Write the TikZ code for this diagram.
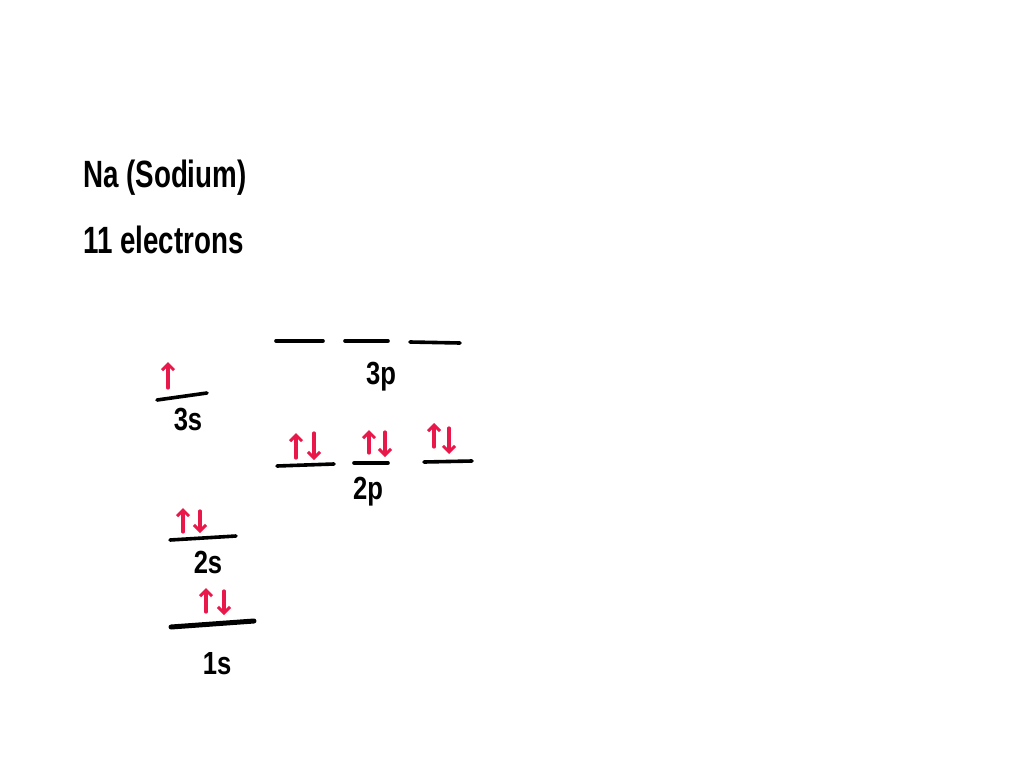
\documentclass[tikz,border=0pt]{standalone}
\usepackage{fontspec}
\setmainfont{Liberation Sans}
\usetikzlibrary{arrows.meta}
\definecolor{elred}{HTML}{E8194A}
\tikzset{
  lvl/.style={line width=3.6pt, line cap=round, black},
  lvlthick/.style={line width=5pt, line cap=round, black},
  elec/.style={line width=3.2pt, elred, line cap=round, -{Straight Barb[length=6pt,width=12pt,line width=3pt]}},
  title/.style={font=\fontsize{38}{40}\selectfont\bfseries, inner sep=0pt, anchor=west},
  lab/.style={font=\fontsize{32}{34}\selectfont\bfseries, inner sep=0pt}
}
\begin{document}
\begin{tikzpicture}[x=1pt,y=-1pt]
\useasboundingbox (0,0) rectangle (1024,768);
% titles
\node[title] (na) at (83,178) {\scalebox{0.73}[1]{Na (Sodium)}};
\node[title] (el) at (83,240) {\scalebox{0.73}[1]{11 electrons}};
% 3p
\coordinate (p3a1) at (276,341); \coordinate (p3a2) at (323,341);
\coordinate (p3b1) at (345,341); \coordinate (p3b2) at (388,341);
\coordinate (p3c1) at (410,342); \coordinate (p3c2) at (460,343);
\draw[lvl] (p3a1) -- (p3a2);
\draw[lvl] (p3b1) -- (p3b2);
\draw[lvl] (p3c1) -- (p3c2);
\node[lab] (l3p) at (381,377) {\scalebox{0.8}[1]{3p}};
% 3s
\coordinate (s31) at (157,400); \coordinate (s32) at (207,393);
\draw[lvl] (s31) -- (s32);
\draw[elec] (168,388) -- (168,362);
\node[lab] (l3s) at (188,420) {\scalebox{0.8}[1]{3s}};
% 2p
\coordinate (p2a1) at (277,466); \coordinate (p2a2) at (334,464);
\coordinate (p2b1) at (354,463); \coordinate (p2b2) at (388,463);
\coordinate (p2c1) at (424,462); \coordinate (p2c2) at (472,461);
\draw[lvl] (p2a1) -- (p2a2);
\draw[lvl] (p2b1) -- (p2b2);
\draw[lvl] (p2c1) -- (p2c2);
\draw[elec] (296,458) -- (296,433);
\draw[elec] (314,433) -- (314,460);
\draw[elec] (369,453) -- (369,430);
\draw[elec] (385,432) -- (385,457);
\draw[elec] (434,447) -- (434,423);
\draw[elec] (449,428) -- (449,454);
\node[lab] (l2p) at (368,492) {\scalebox{0.8}[1]{2p}};
% 2s
\coordinate (s21) at (170,540); \coordinate (s22) at (236,536);
\draw[lvl] (s21) -- (s22);
\draw[elec] (183,532) -- (183,508);
\draw[elec] (200,511) -- (200,533);
\node[lab] (l2s) at (208,562) {\scalebox{0.8}[1]{2s}};
% 1s
\coordinate (s11) at (171,627); \coordinate (s12) at (254,621);
\draw[lvlthick] (s11) -- (s12);
\draw[elec] (206,612) -- (206,588);
\draw[elec] (224,591) -- (224,615);
\node[lab] (l1s) at (217,664) {\scalebox{0.8}[1]{1s}};
\end{tikzpicture}
\end{document}
